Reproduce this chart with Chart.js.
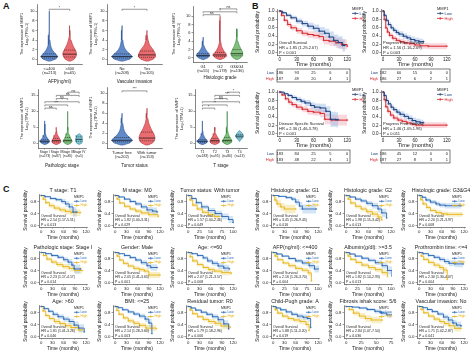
<!DOCTYPE html>
<html>
<head>
<meta charset="utf-8">
<script src="https://cdn.jsdelivr.net/npm/chart.js@4.4.1/dist/chart.umd.min.js"></script>
<style>
  body { margin: 0; background: #fff; width: 474px; height: 353px; overflow: hidden; position: relative; }
  canvas { position: absolute; }
  .panel { position: absolute; font: bold 9px "Liberation Sans", Arial, sans-serif; color: #111; }
</style>
</head>
<body>
<div class="panel" style="left:3px;top:1px">A</div>
<div class="panel" style="left:252px;top:1px">B</div>
<div class="panel" style="left:3px;top:184px">C</div>
<script>
// ---------- data ----------
// violin density grid (expression levels) and half-widths per group
const violinY = [-0.4, 0, 0.5, 1, 1.5, 2, 2.5, 3, 4, 5, 6, 7, 8, 9, 10];

const afpCats = [['<=400', '(n=213)'], ['>400', '(n=65)']];
const afpW = [
  [0.05, 0.30, 0.42, 0.34, 0.22, 0.14, 0.09, 0.06, 0.03, 0.02, 0.012, 0.008, 0.005, 0.003, 0],
  [0.05, 0.22, 0.30, 0.34, 0.32, 0.26, 0.20, 0.14, 0.06, 0.025, 0.008, 0, 0, 0, 0]
];
const afpMed = [0.55, 1.05];
const afpQ = [[0.25, 1.1], [0.45, 1.9]];

const vascCats = [['No', '(n=208)'], ['Yes', '(n=105)']];
const vascW = [
  [0.05, 0.30, 0.42, 0.34, 0.22, 0.14, 0.09, 0.06, 0.03, 0.015, 0.008, 0, 0, 0, 0],
  [0.05, 0.25, 0.34, 0.34, 0.30, 0.24, 0.17, 0.10, 0.04, 0.012, 0, 0, 0, 0, 0]
];
const vascMed = [0.55, 0.9];
const vascQ = [[0.25, 1.1], [0.4, 1.7]];

const gradeCats = [['G1', '(n=55)'], ['G2', '(n=178)'], ['G3&G4', '(n=136)']];
const gradeW = [
  [0.05, 0.28, 0.40, 0.36, 0.24, 0.15, 0.09, 0.05, 0.02, 0, 0, 0, 0, 0, 0],
  [0.05, 0.28, 0.40, 0.36, 0.26, 0.18, 0.12, 0.08, 0.04, 0.02, 0.01, 0.006, 0.004, 0.002, 0],
  [0.05, 0.22, 0.32, 0.36, 0.32, 0.26, 0.20, 0.14, 0.06, 0.025, 0.01, 0, 0, 0, 0]
];
const gradeMed = [0.55, 0.7, 1.0];
const gradeQ = [[0.3, 1.0], [0.35, 1.3], [0.5, 2.0]];

const stageCats = [['Stage I', '(n=173)'], ['Stage II', '(n=87)'], ['Stage III', '(n=85)'], ['Stage IV', '(n=5)']];
const stageW = [
  [0.05, 0.30, 0.42, 0.36, 0.24, 0.15, 0.10, 0.06, 0.03, 0.015, 0.008, 0, 0, 0, 0],
  [0.05, 0.30, 0.40, 0.36, 0.28, 0.20, 0.13, 0.07, 0.02, 0, 0, 0, 0, 0, 0],
  [0.05, 0.27, 0.38, 0.36, 0.28, 0.21, 0.15, 0.09, 0.04, 0.02, 0.01, 0.006, 0.004, 0.002, 0],
  [0, 0.22, 0.28, 0.28, 0.28, 0.26, 0.20, 0, 0, 0, 0, 0, 0, 0, 0]
];
const stageMed = [0.6, 0.8, 0.9, 1.2];
const stageQ = [[0.3, 1.1], [0.4, 1.5], [0.45, 1.8], [0.6, 2.0]];

const statusCats = [['Tumor free', '(n=202)'], ['With tumor', '(n=153)']];
const statusW = [
  [0.05, 0.30, 0.42, 0.34, 0.22, 0.14, 0.09, 0.06, 0.03, 0.012, 0, 0, 0, 0, 0],
  [0.05, 0.22, 0.30, 0.32, 0.30, 0.26, 0.20, 0.15, 0.07, 0.03, 0.01, 0, 0, 0, 0]
];
const statusMed = [0.55, 1.0];
const statusQ = [[0.25, 1.1], [0.45, 2.2]];

const tCats = [['T1', '(n=183)'], ['T2', '(n=95)'], ['T3', '(n=80)'], ['T4', '(n=13)']];
const tW = [
  [0.05, 0.30, 0.42, 0.36, 0.24, 0.15, 0.10, 0.06, 0.03, 0.015, 0.008, 0, 0, 0, 0],
  [0.05, 0.30, 0.40, 0.36, 0.28, 0.20, 0.13, 0.07, 0.02, 0, 0, 0, 0, 0, 0],
  [0.05, 0.27, 0.38, 0.36, 0.28, 0.21, 0.15, 0.09, 0.04, 0.02, 0.01, 0.006, 0.004, 0.002, 0],
  [0, 0, 0, 0.08, 0.22, 0.30, 0.30, 0.24, 0, 0, 0, 0, 0, 0, 0]
];
const tMed = [0.6, 0.8, 0.9, 2.2];
const tQ = [[0.3, 1.1], [0.4, 1.5], [0.45, 1.8], [1.7, 2.7]];

// significance brackets: [group a, group b, level, label]
const afpBr = [[1, 2, 10.4, '*']];
const vascBr = [[1, 2, 10.4, '*']];
const gradeBr = [[1, 2, 10.4, 'ns'], [1, 3, 11.1, '*'], [2, 3, 11.8, 'ns']];
const stageBr = [[1, 2, 11, 'ns'], [1, 3, 12, '***'], [1, 4, 13, '*'], [2, 3, 14, 'ns'], [2, 4, 15, 'ns'], [3, 4, 16, 'ns']];
const statusBr = [[1, 2, 10.5, '***']];
const tBr = [[1, 2, 11, '*'], [1, 3, 12, '**'], [1, 4, 13, '***'], [2, 3, 14, 'ns'], [2, 4, 15, '***'], [3, 4, 16, '*']];

const yt10 = [0, 2, 4, 6, 8, 10];
const yt15 = [0, 5, 10, 15];
const survTicks = [0, 0.2, 0.4, 0.6, 0.8, 1.0];
const t120 = [0, 30, 60, 90, 120];
const t100 = [0, 25, 50, 75, 100];
const t75 = [0, 25, 50, 75];

// Kaplan-Meier curves: [time, survival, CI half width]
const osLow = [[0,1,0],[5,0.96,0.03],[12,0.9,0.04],[20,0.84,0.05],[30,0.76,0.06],[40,0.7,0.07],[50,0.64,0.08],[60,0.59,0.09],[70,0.52,0.1],[80,0.47,0.11],[88,0.38,0.13],[96,0.3,0.14],[104,0.25,0.15],[112,0.18,0.15],[116,0.18,0.15]];
const osHigh = [[0,1,0],[3,0.9,0.04],[8,0.78,0.05],[14,0.68,0.06],[20,0.6,0.06],[30,0.53,0.07],[40,0.47,0.07],[50,0.44,0.08],[60,0.42,0.08],[70,0.39,0.09],[78,0.3,0.1],[88,0.28,0.11],[100,0.24,0.12],[110,0.2,0.12],[120,0.16,0.12]];
const pfsLow = [[0,1,0],[2,0.9,0.04],[6,0.78,0.05],[10,0.68,0.06],[15,0.6,0.06],[20,0.54,0.06],[25,0.49,0.07],[30,0.45,0.07],[38,0.4,0.07],[45,0.36,0.07],[52,0.32,0.07],[60,0.29,0.07],[68,0.27,0.07],[76,0.27,0.07]];
const pfsHigh = [[0,1,0],[2,0.8,0.05],[5,0.6,0.06],[8,0.5,0.06],[12,0.42,0.06],[18,0.35,0.06],[25,0.3,0.06],[32,0.27,0.06],[40,0.24,0.06],[50,0.22,0.06],[60,0.19,0.06],[70,0.17,0.07],[85,0.16,0.07],[120,0.16,0.07]];
const dssLow = [[0,1,0],[8,0.96,0.03],[15,0.92,0.04],[22,0.87,0.05],[30,0.82,0.06],[38,0.78,0.06],[45,0.74,0.07],[55,0.68,0.08],[62,0.64,0.09],[72,0.62,0.1],[82,0.54,0.12],[90,0.35,0.18],[100,0.34,0.18],[104,0.34,0.18]];
const dssHigh = [[0,1,0],[4,0.93,0.03],[10,0.84,0.05],[16,0.76,0.06],[22,0.7,0.06],[30,0.64,0.07],[40,0.59,0.07],[50,0.54,0.08],[60,0.52,0.08],[72,0.49,0.09],[80,0.35,0.12],[92,0.33,0.13],[120,0.33,0.13]];
const pfiLow = [[0,1,0],[2,0.92,0.04],[6,0.8,0.05],[10,0.72,0.06],[15,0.64,0.06],[20,0.58,0.06],[26,0.52,0.07],[32,0.47,0.07],[40,0.42,0.07],[48,0.37,0.07],[55,0.32,0.07],[62,0.29,0.07],[70,0.27,0.07],[76,0.27,0.07]];
const pfiHigh = [[0,1,0],[2,0.82,0.05],[5,0.65,0.06],[9,0.54,0.06],[14,0.45,0.06],[20,0.38,0.06],[28,0.33,0.06],[36,0.3,0.06],[45,0.26,0.06],[55,0.23,0.06],[62,0.21,0.06],[75,0.21,0.07],[120,0.21,0.07]];

const riskTimes = [0, 30, 60, 90, 120];
const osRisk = [[186, 93, 25, 6, 0], [187, 49, 20, 4, 1]];
const pfsRisk = [[182, 60, 15, 0, 0], [186, 27, 6, 2, 1]];
const dssRisk = [[183, 84, 25, 5, 0], [183, 48, 22, 4, 1]];
const pfiRisk = [[186, 45, 12, 0, 0], [187, 27, 8, 3, 1]];

const bNames = ['Overall Survival', 'Progress Free Survival', 'Disease Specific Survival', 'Progress Free Interval'];
const bStats = [['HR = 1.85 (1.29-2.67)', 'P < 0.001'], ['HR = 1.56 (1.16-2.09)', 'P = 0.003'],
                ['HR = 2.36 (1.46-3.78)', 'P < 0.001'], ['HR = 1.46 (1.09-1.96)', 'P = 0.011']];

// panel C subgroups
const cTitles = ['T stage: T1', 'M stage: M0', 'Tumor status: With tumor', 'Histologic grade: G1', 'Histologic grade: G2', 'Histologic grade: G3&G4',
  'Pathologic stage: Stage I', 'Gender: Male', 'Age: <=60', 'AFP(ng/ml): <=400', 'Albumin(g/dl): >=3.5', 'Prothrombin time: <=4',
  'Age: >60', 'BMI: <=25', 'Residual tumor: R0', 'Child-Pugh grade: A', 'Fibrosis ishak score: 5/6', 'Vascular invasion: No'];
const cStats = [
  ['HR = 2.54 (1.17-5.51)', 'P = 0.013'], ['HR = 1.82 (1.00-3.31)', 'P = 0.029'], ['HR = 1.57 (1.00-2.46)', 'P = 0.049'],
  ['HR = 3.45 (1.26-9.45)', 'P = 0.016'], ['HR = 1.98 (1.15-3.42)', 'P = 0.013'], ['HR = 2.20 (1.21-3.97)', 'P = 0.008'],
  ['HR = 2.23 (1.17-4.17)', 'P = 0.014'], ['HR = 2.05 (1.41-3.63)', 'P = 0.001'], ['HR = 2.07 (1.21-3.57)', 'P = 0.008'],
  ['HR = 2.16 (1.26-3.70)', 'P = 0.004'], ['HR = 1.82 (1.14-2.93)', 'P = 0.013'], ['HR = 2.30 (1.30-4.07)', 'P = 0.004'],
  ['HR = 1.81 (1.01-3.26)', 'P = 0.046'], ['HR = 2.14 (1.28-3.60)', 'P = 0.003'], ['HR = 1.79 (1.18-2.96)', 'P = 0.006'],
  ['HR = 1.88 (1.11-3.20)', 'P = 0.019'], ['HR = 2.84 (1.07-7.54)', 'P = 0.036'], ['HR = 1.71 (1.02-2.87)', 'P = 0.041']];
const cXTicks = [t120, t120, t100, t120, t120, t120, t120, t120, t120, t100, t100, t120, t120, t120, t120, t120, t75, t120];
const cLow = [
  [[0,1,0],[10,0.96,0.03],[25,0.9,0.05],[40,0.86,0.06],[55,0.8,0.08],[65,0.72,0.1],[75,0.62,0.12],[85,0.45,0.16],[95,0.45,0.16]],
  [[0,1,0],[10,0.95,0.03],[25,0.88,0.04],[40,0.8,0.05],[55,0.72,0.06],[70,0.62,0.08],[85,0.52,0.1],[100,0.48,0.12],[112,0.45,0.13]],
  [[0,1,0],[8,0.9,0.04],[18,0.76,0.06],[30,0.62,0.07],[45,0.5,0.08],[60,0.4,0.09],[75,0.3,0.1],[90,0.2,0.12],[100,0.1,0.1]],
  [[0,1,0],[15,0.97,0.03],[35,0.93,0.05],[50,0.88,0.07],[60,0.78,0.1],[70,0.65,0.13],[78,0.55,0.15],[115,0.55,0.15]],
  [[0,1,0],[10,0.95,0.03],[25,0.88,0.05],[40,0.82,0.06],[55,0.74,0.08],[70,0.66,0.1],[85,0.55,0.12],[95,0.42,0.14],[108,0.25,0.15]],
  [[0,1,0],[8,0.94,0.04],[18,0.85,0.06],[30,0.78,0.07],[45,0.72,0.08],[55,0.68,0.08],[70,0.66,0.09],[112,0.66,0.09]],
  [[0,1,0],[12,0.96,0.03],[28,0.9,0.05],[45,0.84,0.06],[60,0.76,0.08],[72,0.68,0.1],[82,0.58,0.12],[88,0.45,0.15],[105,0.45,0.15]],
  [[0,1,0],[10,0.96,0.02],[25,0.9,0.04],[40,0.83,0.05],[55,0.75,0.06],[70,0.66,0.08],[85,0.56,0.1],[95,0.5,0.11],[112,0.5,0.11]],
  [[0,1,0],[10,0.96,0.03],[25,0.9,0.04],[40,0.82,0.06],[52,0.72,0.07],[65,0.64,0.08],[80,0.55,0.1],[95,0.48,0.11],[110,0.45,0.12]],
  [[0,1,0],[8,0.95,0.03],[20,0.88,0.04],[35,0.8,0.05],[50,0.72,0.06],[65,0.65,0.08],[80,0.56,0.1],[92,0.45,0.12],[104,0.25,0.14]],
  [[0,1,0],[8,0.95,0.03],[20,0.88,0.04],[35,0.81,0.05],[50,0.74,0.06],[65,0.66,0.08],[80,0.56,0.1],[92,0.4,0.13],[102,0.22,0.14]],
  [[0,1,0],[10,0.96,0.03],[25,0.9,0.04],[40,0.84,0.06],[55,0.77,0.07],[68,0.7,0.09],[80,0.64,0.1],[95,0.62,0.11],[118,0.62,0.11]],
  [[0,1,0],[8,0.93,0.04],[20,0.84,0.05],[32,0.74,0.07],[45,0.66,0.08],[60,0.58,0.09],[75,0.5,0.1],[88,0.38,0.12],[100,0.28,0.13],[115,0.15,0.12]],
  [[0,1,0],[8,0.96,0.03],[20,0.89,0.04],[35,0.82,0.05],[50,0.75,0.06],[65,0.68,0.08],[80,0.58,0.1],[90,0.45,0.13],[98,0.1,0.1]],
  [[0,1,0],[8,0.95,0.03],[20,0.88,0.04],[35,0.81,0.05],[50,0.74,0.06],[65,0.66,0.08],[80,0.56,0.1],[95,0.42,0.12],[108,0.25,0.13]],
  [[0,1,0],[8,0.95,0.03],[20,0.89,0.04],[35,0.82,0.05],[50,0.74,0.06],[65,0.68,0.08],[80,0.64,0.09],[92,0.6,0.1],[100,0.3,0.14]],
  [[0,1,0],[10,0.98,0.02],[22,0.95,0.04],[35,0.9,0.05],[48,0.84,0.07],[58,0.78,0.08],[68,0.72,0.09],[86,0.7,0.1]],
  [[0,1,0],[10,0.96,0.03],[22,0.9,0.04],[35,0.83,0.05],[50,0.75,0.06],[65,0.65,0.08],[78,0.55,0.1],[90,0.45,0.11],[100,0.38,0.12],[112,0.35,0.13]]
];
const cHigh = [
  [[0,1,0],[5,0.88,0.05],[12,0.76,0.06],[22,0.66,0.07],[35,0.58,0.08],[50,0.52,0.09],[65,0.47,0.1],[80,0.43,0.11],[105,0.43,0.11]],
  [[0,1,0],[5,0.88,0.04],[12,0.75,0.05],[25,0.64,0.06],[40,0.55,0.06],[55,0.48,0.07],[70,0.42,0.08],[90,0.36,0.09],[115,0.3,0.1]],
  [[0,1,0],[4,0.85,0.05],[10,0.68,0.06],[20,0.55,0.07],[32,0.44,0.07],[45,0.36,0.08],[58,0.3,0.08],[70,0.3,0.08]],
  [[0,1,0],[4,0.85,0.1],[10,0.72,0.12],[20,0.62,0.13],[30,0.55,0.14],[60,0.55,0.14]],
  [[0,1,0],[5,0.88,0.04],[12,0.75,0.06],[25,0.64,0.07],[40,0.55,0.08],[55,0.46,0.09],[70,0.38,0.1],[85,0.28,0.11],[95,0.18,0.1]],
  [[0,1,0],[4,0.86,0.05],[10,0.72,0.06],[20,0.6,0.07],[30,0.5,0.07],[45,0.43,0.08],[60,0.39,0.08],[75,0.37,0.08],[115,0.37,0.08]],
  [[0,1,0],[6,0.9,0.04],[15,0.78,0.06],[28,0.68,0.07],[42,0.6,0.08],[58,0.53,0.09],[75,0.47,0.1],[90,0.4,0.11],[110,0.4,0.11]],
  [[0,1,0],[5,0.88,0.04],[12,0.75,0.05],[22,0.64,0.06],[35,0.55,0.06],[50,0.47,0.07],[65,0.43,0.08],[78,0.38,0.09],[90,0.25,0.1],[120,0.25,0.1]],
  [[0,1,0],[5,0.86,0.04],[12,0.72,0.06],[25,0.6,0.07],[40,0.5,0.07],[55,0.43,0.08],[70,0.38,0.08],[90,0.33,0.09],[115,0.3,0.09]],
  [[0,1,0],[4,0.88,0.04],[10,0.76,0.05],[22,0.65,0.06],[35,0.56,0.07],[50,0.47,0.07],[65,0.41,0.08],[78,0.32,0.1],[85,0.05,0.05]],
  [[0,1,0],[4,0.88,0.04],[10,0.77,0.05],[22,0.67,0.06],[35,0.58,0.07],[50,0.5,0.08],[65,0.43,0.08],[80,0.33,0.1],[92,0.2,0.1]],
  [[0,1,0],[5,0.88,0.04],[12,0.77,0.06],[25,0.67,0.07],[40,0.58,0.08],[55,0.5,0.09],[65,0.42,0.1],[75,0.1,0.08]],
  [[0,1,0],[5,0.85,0.05],[12,0.7,0.06],[22,0.6,0.07],[35,0.5,0.08],[50,0.43,0.08],[65,0.36,0.09],[80,0.3,0.1],[100,0.22,0.1],[110,0.22,0.1]],
  [[0,1,0],[4,0.87,0.04],[10,0.74,0.05],[22,0.62,0.06],[35,0.52,0.07],[50,0.44,0.08],[65,0.37,0.08],[82,0.28,0.1],[110,0.26,0.1]],
  [[0,1,0],[5,0.88,0.04],[12,0.76,0.05],[25,0.66,0.06],[40,0.57,0.07],[55,0.5,0.08],[72,0.44,0.09],[88,0.35,0.1],[112,0.3,0.11]],
  [[0,1,0],[5,0.89,0.04],[12,0.78,0.05],[25,0.68,0.06],[40,0.6,0.07],[55,0.55,0.08],[72,0.5,0.09],[88,0.4,0.11],[96,0.2,0.12]],
  [[0,1,0],[5,0.9,0.06],[12,0.78,0.08],[22,0.68,0.1],[32,0.6,0.11],[42,0.55,0.11],[60,0.55,0.11]],
  [[0,1,0],[5,0.9,0.04],[12,0.79,0.05],[25,0.68,0.06],[40,0.58,0.07],[55,0.5,0.08],[68,0.43,0.09],[80,0.36,0.1],[95,0.27,0.1],[112,0.27,0.1]]
];

// ---------- drawing ----------
const FONT = '"Liberation Sans", Arial, sans-serif';
Chart.defaults.font.family = FONT;
Chart.defaults.color = '#222';

const violinColors = {
  b: ['rgba(88,132,198,0.95)', '#2a5399'],
  r: ['rgba(234,100,104,0.95)', '#b3303a'],
  g: ['rgba(122,190,118,0.95)', '#34843a'],
  t: ['rgba(118,192,208,0.95)', '#338596']
};

function makeCanvas(left, top, w, h) {
  const c = document.createElement('canvas');
  c.width = w; c.height = h;
  c.style.left = left + 'px'; c.style.top = top + 'px';
  c.style.width = w + 'px'; c.style.height = h + 'px';
  document.body.appendChild(c);
  return c;
}

function halfWidthAt(wArr, y) {
  for (let k = 0; k < violinY.length - 1; k++) {
    if (y >= violinY[k] && y <= violinY[k + 1]) {
      const f = (y - violinY[k]) / (violinY[k + 1] - violinY[k]);
      return wArr[k] + f * (wArr[k + 1] - wArr[k]);
    }
  }
  return 0;
}

function axisY(o) {
  return {
    min: o.yMin, max: o.yMax,
    afterBuildTicks: s => { s.ticks = o.yTicks.map(v => ({ value: v })); },
    afterFit: s => { s.width = o.yAxisW; },
    ticks: { font: { size: o.tickFs }, padding: 1, color: '#222', callback: o.yFmt || (v => v) },
    grid: { drawOnChartArea: false, tickLength: 1.5, color: '#333', lineWidth: 0.5 },
    border: { color: '#333', width: 0.6 },
    title: { display: true, text: o.yTitle, font: { size: o.yTitleFs }, padding: 0, color: '#222' }
  };
}

function axisX(o, ticks, labels) {
  return {
    type: 'linear', min: o.xMin, max: o.xMax,
    afterBuildTicks: s => { s.ticks = ticks.map(v => ({ value: v })); },
    afterFit: s => { s.height = o.xAxisH; },
    ticks: { font: { size: o.tickFs }, padding: 0.5, maxRotation: 0, minRotation: 0, autoSkip: false, color: '#222',
             callback: labels ? ((v, i) => labels[i]) : (v => v) },
    grid: { drawOnChartArea: false, tickLength: 1.5, color: '#333', lineWidth: 0.5 },
    border: { color: '#333', width: 0.6 },
    title: { display: true, text: o.xTitle, font: { size: o.xTitleFs }, padding: 0, color: '#222' }
  };
}

function violinChart(o) {
  const cv = makeCanvas(o.left, o.top, o.w, o.h);
  const datasets = [];
  o.widths.forEach((wArr, i) => {
    const cx = i + 1;
    const [fillC, lineC] = violinColors[o.cols[i]];
    const m = o.med[i], q = o.q[i];
    const mw = halfWidthAt(wArr, m);
    datasets.push({ data: [{ x: cx - mw, y: m }, { x: cx + mw, y: m }], borderColor: '#111', borderWidth: 0.7, pointRadius: 0, fill: false });
    q.forEach(qv => {
      const qw = halfWidthAt(wArr, qv);
      datasets.push({ data: [{ x: cx - qw, y: qv }, { x: cx + qw, y: qv }], borderColor: '#111', borderWidth: 0.5,
                      borderDash: [1.2, 0.8], pointRadius: 0, fill: false });
    });
    let first = wArr.findIndex(w => w > 0);
    let last = wArr.length - 1 - [...wArr].reverse().findIndex(w => w > 0);
    const k0 = Math.max(0, first - 1), k1 = Math.min(wArr.length - 1, last + 1);
    const right = [], leftSide = [];
    for (let k = k0; k <= k1; k++) {
      right.push({ x: cx + wArr[k], y: violinY[k] });
      leftSide.push({ x: cx - wArr[k], y: violinY[k] });
    }
    const pts = right.concat(leftSide.reverse());
    pts.push(pts[0]);
    datasets.push({ data: pts, borderColor: lineC, borderWidth: 0.6, backgroundColor: fillC, fill: 'shape', pointRadius: 0, tension: 0 });
  });
  const n = o.cats.length;
  const xo = { xMin: 0.4, xMax: n + 0.6, xAxisH: o.xAxisH, tickFs: o.xTickFs || 4, xTitle: o.xTitle, xTitleFs: 4.6 };
  new Chart(cv, {
    type: 'line',
    data: { datasets },
    options: {
      responsive: false, animation: false, devicePixelRatio: 1, events: [],
      layout: { padding: { top: o.padTop, right: o.padRight, bottom: o.padBottom, left: 0 } },
      plugins: { legend: { display: false }, tooltip: { enabled: false } },
      scales: {
        x: axisX(xo, o.cats.map((c, i) => i + 1), o.cats),
        y: axisY({ yMin: o.yMin, yMax: o.yMax, yTicks: o.yTicks, yAxisW: o.yAxisW, tickFs: 4,
                   yTitle: ['The expression of MMP1', 'Log\u2082(TPM+1)'], yTitleFs: 3.8 })
      }
    },
    plugins: [{
      id: 'brackets',
      afterDraw(chart) {
        const { ctx, scales: { x, y } } = chart;
        ctx.save();
        o.brackets.forEach(([a, b, lev, lab]) => {
          const x1 = x.getPixelForValue(a), x2 = x.getPixelForValue(b), yy = y.getPixelForValue(lev);
          ctx.strokeStyle = '#333'; ctx.lineWidth = 0.5;
          ctx.beginPath(); ctx.moveTo(x1, yy + 1.5); ctx.lineTo(x1, yy); ctx.lineTo(x2, yy); ctx.lineTo(x2, yy + 1.5); ctx.stroke();
          ctx.fillStyle = '#222'; ctx.font = '3.6px ' + FONT; ctx.textAlign = 'center'; ctx.textBaseline = 'bottom';
          ctx.fillText(lab, (x1 + x2) / 2, yy + 0.2);
        });
        ctx.restore();
      }
    }]
  });
}

function kmChart(o) {
  const cv = makeCanvas(o.left, o.top, o.w, o.h);
  const line = c => c.map(p => ({ x: p[0], y: p[1] }));
  const band = (c, sgn) => c.map(p => ({ x: p[0], y: Math.max(0, Math.min(1, p[1] + sgn * p[2])) }));
  const lineDs = (c, col) => ({ data: line(c), borderColor: col, borderWidth: o.lw, stepped: true, fill: false,
    pointStyle: 'cross', pointRadius: o.pr, pointBorderColor: col, pointBorderWidth: 0.5 });
  const bandDs = (c, sgn, bg) => ({ data: band(c, sgn), borderWidth: 0, pointRadius: 0, stepped: true,
    backgroundColor: bg, fill: sgn > 0 ? '+1' : false });
  new Chart(cv, {
    type: 'line',
    data: { datasets: [lineDs(o.low, o.cLow), lineDs(o.high, o.cHigh),
      bandDs(o.low, 1, o.bLow), bandDs(o.low, -1, o.bLow), bandDs(o.high, 1, o.bHigh), bandDs(o.high, -1, o.bHigh)] },
    options: {
      responsive: false, animation: false, devicePixelRatio: 1, events: [],
      layout: { padding: { top: o.padTop, right: o.padRight, bottom: o.padBottom, left: 0 } },
      plugins: { legend: { display: false }, tooltip: { enabled: false } },
      scales: {
        x: axisX(o, o.xTicks),
        y: axisY({ yMin: -0.05, yMax: 1.05, yTicks: survTicks, yAxisW: o.yAxisW, tickFs: o.tickFs,
                   yTitle: 'Survival probability', yTitleFs: o.yTitleFs, yFmt: v => v.toFixed(1) })
      }
    },
    plugins: [{ id: 'kmDeco', afterDraw(chart) { drawKmDeco(chart, o); } }]
  });
}

function drawKmDeco(chart, o) {
  const { ctx, chartArea: a, scales: { x } } = chart;
  ctx.save();
  ctx.fillStyle = '#222';
  if (o.title) {
    ctx.font = o.titleFs + 'px ' + FONT; ctx.textAlign = 'center'; ctx.textBaseline = 'bottom';
    ctx.fillText(o.title, (a.left + a.right) / 2, a.top - 1);
  }
  // annotation
  ctx.font = o.annFs + 'px ' + FONT; ctx.textAlign = 'left'; ctx.textBaseline = 'alphabetic';
  o.ann.forEach((t, i) => ctx.fillText(t, a.left + 2, a.bottom - 1.5 - (o.ann.length - 1 - i) * o.annFs * 1.2));
  // legend
  const fs = o.legFs;
  const lx = o.legX != null ? o.legX : a.right - o.legW;
  const ly = o.legY != null ? o.legY : a.top + 1;
  ctx.font = fs + 'px ' + FONT; ctx.textBaseline = 'middle';
  ctx.fillText('MMP1', lx, ly + fs * 0.6);
  [['Low', o.cLow], ['High', o.cHigh]].forEach(([lab, col], i) => {
    const yy = ly + fs * 0.6 + fs * 1.25 * (i + 1);
    ctx.strokeStyle = col; ctx.lineWidth = 0.8;
    ctx.beginPath(); ctx.moveTo(lx, yy); ctx.lineTo(lx + fs * 1.6, yy);
    ctx.moveTo(lx + fs * 0.8, yy - fs * 0.35); ctx.lineTo(lx + fs * 0.8, yy + fs * 0.35); ctx.stroke();
    ctx.fillStyle = col; ctx.fillText(lab, lx + fs * 1.9, yy);
  });
  // risk table
  if (o.risk) {
    const top = a.bottom + o.xAxisH + 1, h = 13;
    ctx.strokeStyle = '#222'; ctx.lineWidth = 0.6;
    ctx.strokeRect(a.left, top, a.right - a.left, h);
    ctx.font = '4px ' + FONT; ctx.textBaseline = 'middle';
    [[o.risk[0], o.cLow, 'Low'], [o.risk[1], o.cHigh, 'High']].forEach(([vals, col, lab], r) => {
      const yy = top + 3.5 + r * 6;
      ctx.fillStyle = col; ctx.textAlign = 'right';
      ctx.fillText(lab, a.left - 3, yy);
      ctx.fillStyle = '#222'; ctx.textAlign = 'center';
      vals.forEach((v, k) => ctx.fillText(String(v), x.getPixelForValue(riskTimes[k]), yy));
    });
  }
  ctx.restore();
}

// ---------- panel A ----------
const base1 = { h: 88, yMin: -1, yTicks: yt10, xAxisH: 20, padBottom: 4, padRight: 3 };
violinChart(Object.assign({}, base1, { left: 20, top: 0, w: 65, yAxisW: 17, padTop: 4, yMax: 11.5, cats: afpCats, widths: afpW, med: afpMed, q: afpQ, cols: ['b', 'r'], brackets: afpBr, xTitle: 'AFP(ng/ml)' }));
violinChart(Object.assign({}, base1, { left: 89, top: 0, w: 76, yAxisW: 18, padTop: 4, yMax: 11.5, cats: vascCats, widths: vascW, med: vascMed, q: vascQ, cols: ['b', 'r'], brackets: vascBr, xTitle: 'Vascular invasion' }));
violinChart(Object.assign({}, base1, { left: 172, top: 0, w: 78, yAxisW: 21, padTop: 6, yMax: 12.5, xAxisH: 18, padBottom: 8, cats: gradeCats, widths: gradeW, med: gradeMed, q: gradeQ, cols: ['b', 'r', 'g'], brackets: gradeBr, xTitle: 'Histologic grade' }));
const base2 = { top: 84, h: 88, xAxisH: 20, padBottom: 4, padRight: 3 };
violinChart(Object.assign({}, base2, { left: 20, w: 67, yAxisW: 18, padTop: 5, padRight: 1, yMin: -1.5, yMax: 17, yTicks: yt15, xTickFs: 3.2, cats: stageCats, widths: stageW, med: stageMed, q: stageQ, cols: ['b', 'r', 'g', 't'], brackets: stageBr, xTitle: 'Pathologic stage' }));
violinChart(Object.assign({}, base2, { left: 89, w: 76, yAxisW: 18, padTop: 3, yMin: -1, yMax: 11.2, yTicks: yt10, cats: statusCats, widths: statusW, med: statusMed, q: statusQ, cols: ['b', 'r'], brackets: statusBr, xTitle: 'Tumor status' }));
violinChart(Object.assign({}, base2, { left: 175, w: 75, yAxisW: 20, padTop: 5, yMin: -1.5, yMax: 17, yTicks: yt15, xTickFs: 3.4, cats: tCats, widths: tW, med: tMed, q: tQ, cols: ['b', 'r', 'g', 't'], brackets: tBr, xTitle: 'T stage' }));

// ---------- panel B ----------
const bStyle = { h: 88, padTop: 9, xAxisH: 13, padBottom: 20, tickFs: 4.5, yTitleFs: 5, xTitle: 'Time (months)', xTitleFs: 5.5,
  xTicks: t120, lw: 1, pr: 1.2, cLow: '#1d3f7c', cHigh: '#d7262c', bLow: 'rgba(150,185,230,0.45)', bHigh: 'rgba(240,150,165,0.38)',
  annFs: 4, legFs: 4, legY: 6 };
const bLeft = { left: 255, w: 110, yAxisW: 22, xMin: -5, xMax: 125, padRight: 15, legX: 97 };
const bRight = { left: 362, w: 112, yAxisW: 19, xMin: -4, xMax: 126, padRight: 24, legX: 75 };
kmChart(Object.assign({}, bStyle, bLeft, { top: 0, low: osLow, high: osHigh, risk: osRisk, ann: [bNames[0]].concat(bStats[0]) }));
kmChart(Object.assign({}, bStyle, bRight, { top: 0, low: pfsLow, high: pfsHigh, risk: pfsRisk, ann: [bNames[1]].concat(bStats[1]) }));
kmChart(Object.assign({}, bStyle, bLeft, { top: 81, low: dssLow, high: dssHigh, risk: dssRisk, ann: [bNames[2]].concat(bStats[2]) }));
kmChart(Object.assign({}, bStyle, bRight, { top: 81, low: pfiLow, high: pfiHigh, risk: pfiRisk, ann: [bNames[3]].concat(bStats[3]) }));

// ---------- panel C ----------
const cAxisX = [39, 113, 186, 271, 344, 417];
const cAreaTop = [194, 251, 305];
cTitles.forEach((title, i) => {
  const r = Math.floor(i / 6), c = i % 6;
  const ticks = cXTicks[i];
  const last = ticks[ticks.length - 1];
  kmChart({
    left: cAxisX[c] - 16, top: cAreaTop[r] - 10, w: 72, h: 57, yAxisW: 16,
    padTop: 10, padRight: 8, padBottom: 0, xAxisH: 14,
    xMin: -last * 0.05, xMax: last * 1.02, xTicks: ticks,
    tickFs: 4.3, yTitleFs: 4.8, xTitle: 'Time (months)', xTitleFs: 5,
    lw: 0.9, pr: 1, cLow: '#2a68b3', cHigh: '#e8b418', bLow: 'rgba(150,190,232,0.42)', bHigh: 'rgba(236,214,120,0.42)',
    low: cLow[i], high: cHigh[i], title, titleFs: 5.3,
    ann: ['Overall Survival'].concat(cStats[i]), annFs: 3.5, legFs: 3.4, legW: 13
  });
});
</script>
</body>
</html>
